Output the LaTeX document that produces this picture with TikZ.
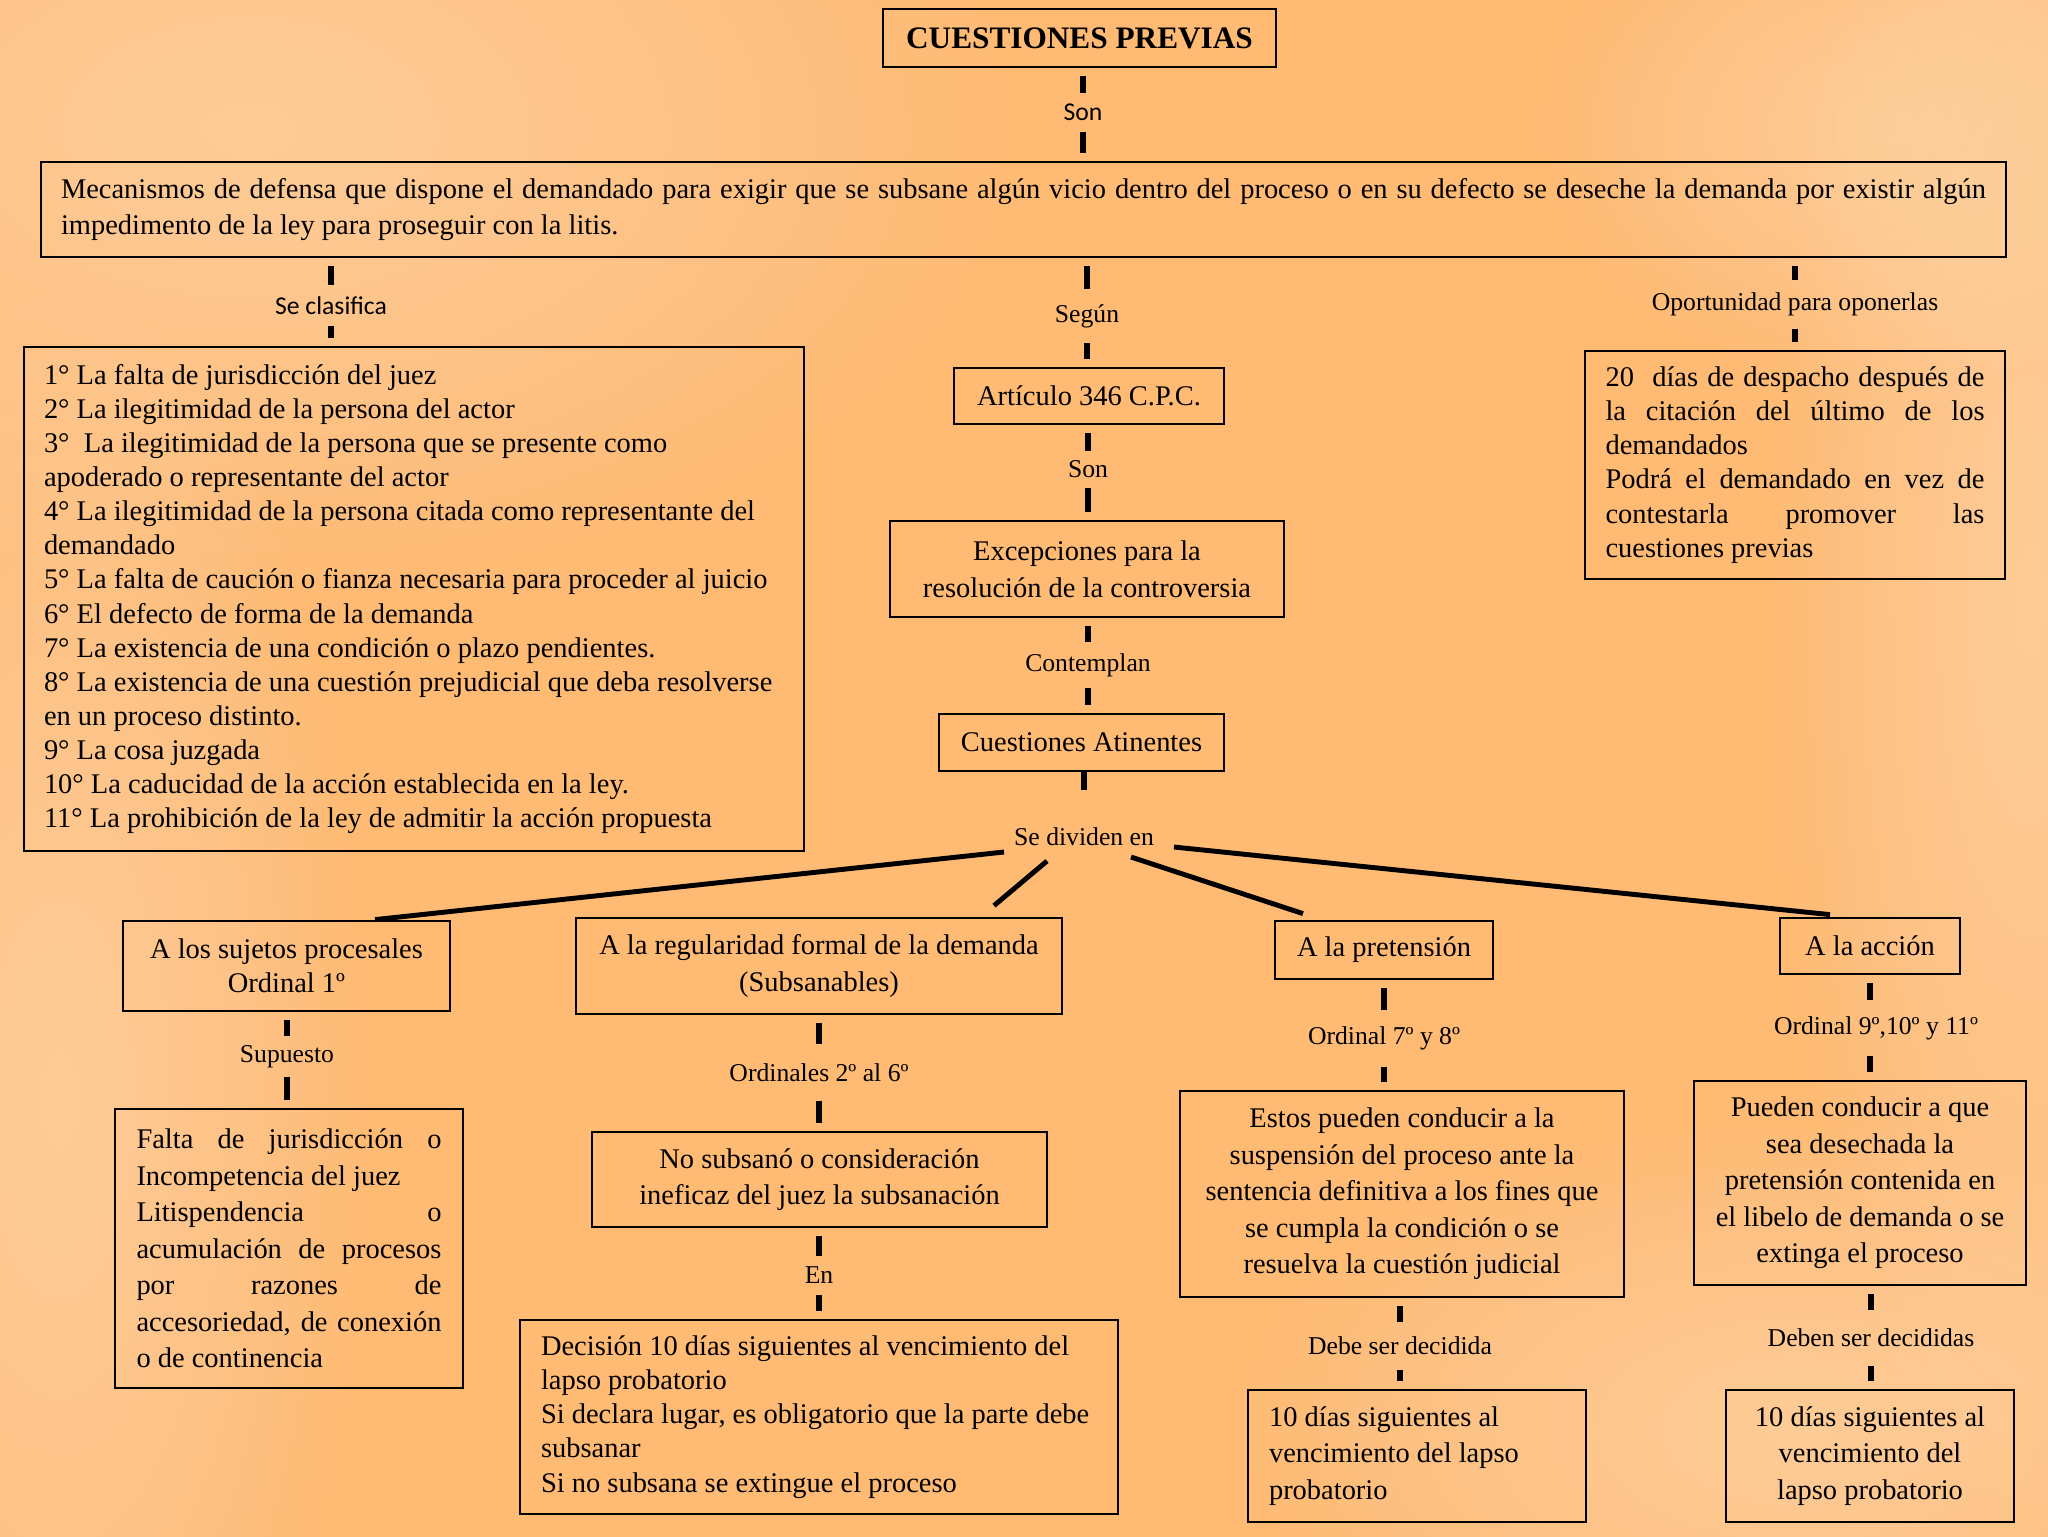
\documentclass[tikz,border=0pt]{standalone}
\usepackage{fontspec}
\setmainfont{Liberation Serif}
\newfontfamily\sansf{Carlito}
\usepackage{tikz}
\usetikzlibrary{positioning,calc}
\definecolor{peach}{RGB}{255,187,115}
\definecolor{peachlight}{RGB}{253,224,185}
\newcommand{\boxfont}{\fontsize{8.1}{9.7}\selectfont}
\newcommand{\wboxfont}{\fontsize{8.1}{10.4}\selectfont}
\newcommand{\linkfont}{\fontsize{7.3}{8.8}\selectfont}
\newcommand{\titlefont}{\fontsize{8.9}{10.7}\selectfont\bfseries}
\newcommand{\lefttext}[2]{\parbox{#1}{\raggedright #2}}
\newcommand{\jline}[1]{\makebox[\linewidth][s]{#1}}
\newcommand{\glow}[4]{\foreach \k in {1,...,16}{\fill[peachlight,opacity=0.05] (#1,#2) ellipse ({#3mm*\k/16} and {#4mm*\k/16});}}
\tikzset{
  rectnode/.style args={#1,#2}{
  draw=black,
  line width=0.8pt,
  inner sep=0pt,
  align=center,
  font=\boxfont,
  minimum width=#1mm,
  minimum height=#2mm,
  },
  link/.style={inner sep=0pt,font=\linkfont},
  slink/.style={link,font=\sansf\linkfont},
  tick/.style={draw,line width=1.5pt},
  tickup/.style={tick,shorten <=0.8mm},
  tickdn/.style={tick,shorten >=0.8mm},
  split/.style={draw,line width=1.4pt}
}
\begin{document}
\begin{tikzpicture}[x=0.1mm,y=-0.1mm]
  \useasboundingbox (0,0) rectangle (2048,1536);

  % fondo
  \fill[peach] (-20,-20) rectangle (2068,1556);
  \begin{scope}
    \clip (0,0) rectangle (2048,1536);
    \glow{250}{130}{75}{45}
    \glow{60}{1100}{30}{80}
    \glow{2030}{600}{25}{90}
    \glow{1800}{1430}{55}{30}
    \glow{1900}{130}{35}{25}
  \end{scope}

  \node [rectnode={39.3,5.8},font=\titlefont] (cp) at (1079.5,38) {CUESTIONES PREVIAS};
  \node [slink,minimum height=3.7mm] (son1) at (1083,112.5) {Son};
  \node [rectnode={196.5,9.5},font=\wboxfont] (mec) at (1023.5,209.5)
        {\lefttext{192.5mm}{\jline{Mecanismos de defensa que dispone el demandado para exigir que se subsane algún vicio dentro del proceso o en su defecto se deseche la demanda por existir algún}\\
         impedimento de la ley para proseguir con la litis.}};

  \node [slink,minimum height=3.9mm] (clas) at (331,305.5) {Se clasifica};
  \node [link,minimum height=5.2mm] (segun) at (1087,316) {Según};
  \node [link,minimum height=4.7mm] (opor) at (1795,304.5) {Oportunidad para oponerlas};

  \node [rectnode={78,50.4}] (lista) at (414,599)
        {\lefttext{74mm}{1° La falta de jurisdicción del juez\\
         2° La ilegitimidad de la persona del actor\\
         3°~~La ilegitimidad de la persona que se presente como\\
         apoderado o representante del actor\\
         4° La ilegitimidad de la persona citada como representante del\\
         demandado\\
         5° La falta de caución o fianza necesaria para proceder al juicio\\
         6° El defecto de forma de la demanda\\
         7° La existencia de una condición o plazo pendientes.\\
         8° La existencia de una cuestión prejudicial que deba resolverse\\
         en un proceso distinto.\\
         9° La cosa juzgada\\
         10° La caducidad de la acción establecida en la ley.\\
         11° La prohibición de la ley de admitir la acción propuesta}};

  \node [rectnode={27,5.6}] (art) at (1089,396) {Artículo 346 C.P.C.};
  \node [link,minimum height=3.5mm] (son2) at (1088,469.5) {Son};
  \node [rectnode={39.4,9.6},font=\wboxfont] (exc) at (1087,569) {Excepciones para la\\resolución de la controversia};
  \node [link,minimum height=4.4mm] (cont) at (1088,665) {Contemplan};
  \node [rectnode={28.5,5.7}] (ca) at (1081.5,742.5) {Cuestiones Atinentes};
  \node [link,minimum height=9.2mm] (div) at (1084,837) {Se dividen en};

  \node [rectnode={42,22.8}] (plazo) at (1795,465)
        {\lefttext{37.9mm}{\jline{20~~días de despacho después de}\\
         \jline{la citación del último de los}\\
         demandados\\
         \jline{Podrá el demandado en vez de}\\
         \jline{contestarla promover las}\\
         cuestiones previas}};

  \node [rectnode={32.7,9}] (suj) at (286.5,966) {A los sujetos procesales\\Ordinal 1º};
  \node [rectnode={48.6,9.6},font=\wboxfont] (reg) at (819,966) {A la regularidad formal de la demanda\\(Subsanables)};
  \node [rectnode={21.8,5.8}] (pret) at (1384,950) {A la pretensión};
  \node [rectnode={18,5.6}] (acc) at (1870,946) {A la acción};

  \node [link,minimum height=3.9mm] (sup) at (287,1056.5) {Supuesto};
  \node [rectnode={34.8,27.9},font=\wboxfont] (falta) at (289,1248.5)
        {\lefttext{30.5mm}{\jline{Falta de jurisdicción o}\\
         Incompetencia del juez\\
         \jline{Litispendencia o}\\
         \jline{acumulación de procesos}\\
         \jline{por razones de}\\
         \jline{accesoriedad, de conexión}\\
         o de continencia}};

  \node [link,minimum height=5.5mm] (ord26) at (819,1072.5) {Ordinales 2º al 6º};
  \node [rectnode={45.5,9.5},font=\wboxfont] (nosub) at (819.5,1179.5) {No subsanó o consideración\\ineficaz del juez la subsanación};
  \node [link,minimum height=3.8mm] (en) at (819,1275.5) {En};
  \node [rectnode={59.8,19.4}] (dec) at (819,1417)
        {\lefttext{55.6mm}{Decisión 10 días siguientes al vencimiento del\\
         lapso probatorio\\
         Si declara lugar, es obligatorio que la parte debe\\
         subsanar\\
         Si no subsana se extingue el proceso}};

  \node [link,minimum height=5.5mm] (ord78) at (1384,1038.5) {Ordinal 7º y 8º};
  \node [rectnode={44.4,20.6},font=\wboxfont] (estos) at (1402,1194)
        {Estos pueden conducir a la\\suspensión del proceso ante la\\sentencia definitiva a los fines que\\se cumpla la condición o se\\resuelva la cuestión judicial};
  \node [link,minimum height=4.6mm] (debe) at (1400,1346) {Debe ser decidida};
  \node [rectnode={33.8,13.2},font=\wboxfont] (diez1) at (1417,1456)
        {\lefttext{29.6mm}{10 días siguientes al\\vencimiento del lapso\\probatorio}};

  \node [link,minimum height=5.4mm] (ord911) at (1876,1028) {Ordinal 9º,10º y 11º};
  \node [rectnode={33.2,20.4},font=\wboxfont] (pueden) at (1860,1183)
        {Pueden conducir a que\\sea desechada la\\pretensión contenida en\\el libelo de demanda o se\\extinga el proceso};
  \node [link,minimum height=5.4mm] (deben) at (1871,1338) {Deben ser decididas};
  \node [rectnode={28.8,13.2},font=\wboxfont] (diez2) at (1870,1456)
        {10 días siguientes al\\vencimiento del\\lapso probatorio};

  % trazos cortos
  \path (son1.north |- cp.south) edge[tickup] (son1.north)
        (son1.south) edge[tickdn] (son1.south |- mec.north)
        (clas.north |- mec.south) edge[tickup] (clas.north)
        (clas.south) edge[tickdn] (clas.south |- lista.north)
        (segun.north |- mec.south) edge[tickup] (segun.north)
        (segun.south) edge[tickdn] (segun.south |- art.north)
        (opor.north |- mec.south) edge[tickup] (opor.north)
        (opor.south) edge[tickdn] (opor.south |- plazo.north)
        (son2.north |- art.south) edge[tickup] (son2.north)
        (son2.south) edge[tickdn] (son2.south |- exc.north)
        (cont.north |- exc.south) edge[tickup] (cont.north)
        (cont.south) edge[tickdn] (cont.south |- ca.north)
        (div.north |- ca.south) edge[tick] (div.north);
  \path (sup.north |- suj.south) edge[tickup] (sup.north)
        (sup.south) edge[tickdn] (sup.south |- falta.north)
        (ord26.north |- reg.south) edge[tickup] (ord26.north)
        (ord26.south) edge[tickdn] (ord26.south |- nosub.north)
        (en.north |- nosub.south) edge[tickup] (en.north)
        (en.south) edge[tickdn] (en.south |- dec.north)
        (ord78.north |- pret.south) edge[tickup] (ord78.north)
        (ord78.south) edge[tickdn] (ord78.south |- estos.north)
        (debe.north |- estos.south) edge[tickup] (debe.north)
        (debe.south) edge[tickdn] (debe.south |- diez1.north)
        (acc.south) edge[tickup] (acc.south |- ord911.north)
        (acc.south |- ord911.south) edge[tickdn] (acc.south |- pueden.north)
        (deben.north |- pueden.south) edge[tickup] (deben.north)
        (deben.south) edge[tickdn] (deben.south |- diez2.north);

  % division
  \path ([xshift=-8mm,yshift=-1.5mm]div.center) edge[split] ([xshift=8.85mm]suj.north)
        ([xshift=-3.7mm,yshift=-2.4mm]div.center) edge[split] ([xshift=17.5mm,yshift=1.1mm]reg.north)
        ([xshift=4.7mm,yshift=-2mm]div.center) edge[split] ([xshift=-8.1mm,yshift=0.6mm]pret.north)
        ([xshift=9mm,yshift=-1mm]div.center) edge[split] ([xshift=-4mm,yshift=0.2mm]acc.north);
\end{tikzpicture}
\end{document}
